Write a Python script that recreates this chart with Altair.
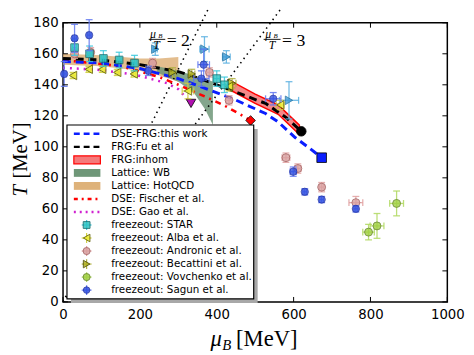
import altair as alt
import pandas as pd

W, H = 391, 284

# ---------------- data ----------------
dse_frg_mu = [0, 100, 200, 300, 356, 442, 527, 560, 604, 642, 673]
dse_frg_T = [155, 154, 150.5, 144, 139, 131, 121.5, 116, 106, 99, 93]
fu_mu = [0, 100, 200, 300, 356, 442, 527, 580, 620]
fu_T = [157, 156, 153, 148.5, 144, 136, 128, 119, 110]
fischer_mu = [0, 150, 250, 300, 373, 417, 468, 488]
fischer_T = [156, 152, 145, 140, 132, 127, 120, 117]
gao_mu = [0, 100, 187, 271, 301, 333]
gao_T = [151, 149.5, 146.5, 141, 137, 128]

inhom_mu = [440, 500, 560, 615]
inhom_lo = [136, 128, 121, 108]
inhom_hi = [142, 134, 127, 114]
wb_mu = [245, 300, 340, 370, 390]
wb_lo = [148, 142, 135, 124, 114]
wb_hi = [152, 149, 146, 144, 142]
hot_mu = [0, 100, 200, 250, 300]
hot_lo = [153, 152, 149, 146, 142]
hot_hi = [160, 159, 157, 157, 158]

# critical end points
cep_mu = [673, 620, 488, 333]
cep_T = [93, 110, 117, 128]

# mu_B/T = 2 and 3 reference lines (end points)
r2_mu = [0, 390]
r2_T = [0, 195]
r3_mu = [0, 585]
r3_T = [0, 195]

# freeze-out data: mu, T, err_mu, err_T
star_mu = [30, 69, 105, 146, 186, 400, 420]
star_T = [164, 160, 157, 156, 154, 144, 140]
star_emu = [5, 5, 5, 5, 5, 8, 8]
star_eT = [5, 5, 5, 5, 5, 5, 5]

alba_mu = [26, 67, 102, 141, 184, 325, 432, 565]
alba_T = [146, 150, 150, 148, 147, 136, 139, 127]
alba_emu = [5, 5, 5, 5, 5, 15, 10, 10]
alba_eT = [2, 2, 2, 2, 2, 5, 3, 3]

andr_mu = [30, 72, 233, 381, 432, 580, 611, 673, 762]
andr_T = [160, 161, 154, 148, 130, 93, 86, 74, 64]
andr_emu = [5, 5, 5, 8, 8, 10, 8, 6, 18]
andr_eT = [3, 3, 3, 3, 3, 3, 3, 3, 4]

beca_mu = [285, 335, 440]
beca_T = [148, 147, 141]
beca_emu = [8, 8, 10]
beca_eT = [3, 3, 3]

vov_mu = [795, 817, 868]
vov_T = [45, 49, 63.5]
vov_emu = [15, 18, 18]
vov_eT = [5, 8, 8]

sagun_mu = [3, 30, 68, 222, 360, 366, 547, 599, 629, 673, 762]
sagun_T = [147, 170, 172, 149, 144, 153, 131, 84, 71, 66, 60]
sagun_emu = [5, 5, 5, 5, 20, 15, 20, 8, 5, 5, 5]
sagun_eT = [8, 9, 10, 3, 5, 10, 4, 3, 2, 2, 2]

lb_mu = [240, 368, 425, 588]
lb_T = [163, 163, 158, 130]
lb_emu = [5, 12, 10, 25]
lb_eT = [4, 8, 4, 12]

x_ticks = [0, 200, 400, 600, 800, 1000]
y_ticks = [0, 20, 40, 60, 80, 100, 120, 140, 160, 180]

legend_labels = [
    "DSE-FRG:this work", "FRG:Fu et al", "FRG:inhom", "Lattice: WB",
    "Lattice: HotQCD", "DSE: Fischer et al.", "DSE: Gao et al.",
    "freezeout: STAR", "freezeout: Alba et al.", "freezeout: Andronic et al.",
    "freezeout: Becattini et al.", "freezeout: Vovchenko et al.",
    "freezeout: Sagun et al.",
]

# ---------------- chart ----------------
xs = alt.Scale(domain=[0, 1000], nice=False, zero=False)
ys = alt.Scale(domain=[0, 180], nice=False, zero=False)
XAX = alt.Axis(values=x_ticks, title=None, ticks=False, domain=False, grid=False, labelPadding=6,
               labelFlush=False, labelOverlap=False, format="d")
YAX = alt.Axis(values=y_ticks, title=None, ticks=False, domain=False, grid=False, labelPadding=5,
               labelOverlap=False, format="d")

def X(f="mu"):
    return alt.X(f"{f}:Q", scale=xs, axis=XAX, title=None)

def Y(f="T"):
    return alt.Y(f"{f}:Q", scale=ys, axis=YAX, title=None)

layers = []

def band(mu, lo, hi, fill, opacity, stroke=None):
    df = pd.DataFrame({"mu": mu, "lo": lo, "hi": hi})
    kw = dict(fill=fill, fillOpacity=opacity)
    if stroke:
        kw.update(stroke=stroke, strokeWidth=1.5)
    return alt.Chart(df).mark_area(**kw).encode(x=X(), y=Y("lo"), y2=alt.Y2("hi"))

layers.append(band(hot_mu, hot_lo, hot_hi, "#deb27a", 0.85))
layers.append(band(wb_mu, wb_lo, wb_hi, "#6f9778", 0.85))

def curve(mu, T, color, dash, width=3, clip=False):
    df = pd.DataFrame({"mu": mu, "T": T})
    return alt.Chart(df).mark_line(color=color, strokeDash=dash, strokeWidth=width, clip=clip).encode(x=X(), y=Y())

layers.append(curve(r2_mu, r2_T, "black", [1.5, 4], 1.6))
layers.append(curve(r3_mu, r3_T, "black", [1.5, 4], 1.6))
layers.append(curve(gao_mu, gao_T, "#d020d0", [2, 5], 2.6))
layers.append(curve(fischer_mu, fischer_T, "#ff0000", [6, 5, 2, 5], 2.6))
layers.append(band(inhom_mu, inhom_lo, inhom_hi, "#f47a7a", 0.9, stroke="#ff0000"))
layers.append(curve(dse_frg_mu, dse_frg_T, "#0a1eff", [8, 5], 3))
layers.append(curve(fu_mu, fu_T, "black", [8, 5], 3))

cepdf = pd.DataFrame({"mu": cep_mu, "T": cep_T,
                      "shape": ["square", "circle", "diamond", "triangle-down"],
                      "col": ["#0a1eff", "black", "#ff0000", "#b010b0"]})
layers.append(
    alt.Chart(cepdf).mark_point(filled=True, size=95, opacity=1, stroke="black", strokeWidth=0.8).encode(
        x=X(), y=Y(),
        shape=alt.Shape("shape:N", scale=None),
        fill=alt.Fill("col:N", scale=None),
        color=alt.Color("col:N", scale=None),
    )
)

def freeze(mu, T, emu, eT, shape, fill, stroke, err, size=60):
    df = pd.DataFrame({"mu": mu, "T": T, "emu": emu, "eT": eT})
    df["mlo"] = df["mu"] - df["emu"]
    df["mhi"] = df["mu"] + df["emu"]
    df["tlo"] = df["T"] - df["eT"]
    df["thi"] = df["T"] + df["eT"]
    base = alt.Chart(df)
    out = [
        base.mark_rule(color=err, strokeWidth=1.3, opacity=0.85).encode(x=X("mlo"), x2=alt.X2("mhi"), y=Y()),
        base.mark_rule(color=err, strokeWidth=1.3, opacity=0.85).encode(x=X(), y=Y("tlo"), y2=alt.Y2("thi")),
        base.mark_tick(color=err, orient="horizontal", size=7, thickness=1.3, opacity=0.85).encode(x=X(), y=Y("tlo")),
        base.mark_tick(color=err, orient="horizontal", size=7, thickness=1.3, opacity=0.85).encode(x=X(), y=Y("thi")),
        base.mark_tick(color=err, orient="vertical", size=7, thickness=1.3, opacity=0.85).encode(x=X("mlo"), y=Y()),
        base.mark_tick(color=err, orient="vertical", size=7, thickness=1.3, opacity=0.85).encode(x=X("mhi"), y=Y()),
        base.mark_point(shape=shape, filled=True, fill=fill, stroke=stroke, strokeWidth=1,
                        size=size, opacity=0.8).encode(x=X(), y=Y()),
    ]
    return out

styles = {
    "star": ("square", "#2ec4c4", "#106868", "#3cc8dc", 60),
    "alba": ("triangle-left", "#eeee30", "#5a5a00", "#d0d040", 75),
    "andr": ("circle", "#d9a0a0", "#a05f5f", "#e0a0a0", 65),
    "beca": ("triangle-right", "#b0b020", "#4a4a00", "#b0b040", 75),
    "vov": ("circle", "#a0d040", "#5f8020", "#b0d860", 65),
    "sagun": ("circle", "#3050e0", "#2030a0", "#6078f0", 55),
    "lb": ("triangle-right", "#3a9ad8", "#20709f", "#5ab0e0", 75),
}

layers += freeze(lb_mu, lb_T, lb_emu, lb_eT, *styles["lb"])
layers += freeze(vov_mu, vov_T, vov_emu, vov_eT, *styles["vov"])
layers += freeze(andr_mu, andr_T, andr_emu, andr_eT, *styles["andr"])
layers += freeze(beca_mu, beca_T, beca_emu, beca_eT, *styles["beca"])
layers += freeze(alba_mu, alba_T, alba_emu, alba_eT, *styles["alba"])
layers += freeze(star_mu, star_T, star_emu, star_eT, *styles["star"])
layers += freeze(sagun_mu, sagun_T, sagun_emu, sagun_eT, *styles["sagun"])

# annotations mu_B/T = 2, 3
ann_serif = "Liberation Serif"
for (cmu, tmu, bmu0, bmu1, eqmu, num) in [(234, 243, 223, 266, 300, "= 2"), (534, 544, 522, 566, 600, "= 3")]:
    d = pd.DataFrame({"mu": [cmu], "T": [172.5]})
    layers.append(alt.Chart(d).mark_text(text="μ", font=ann_serif, fontStyle="italic", fontSize=12,
                                         baseline="middle", align="center").encode(x=X(), y=Y()))
    d = pd.DataFrame({"mu": [cmu + 19], "T": [171.2]})
    layers.append(alt.Chart(d).mark_text(text="B", font=ann_serif, fontStyle="italic", fontSize=7,
                                         baseline="middle", align="center").encode(x=X(), y=Y()))
    d = pd.DataFrame({"mu": [bmu0], "mu2": [bmu1], "T": [169.3]})
    layers.append(alt.Chart(d).mark_rule(color="black", strokeWidth=0.9).encode(x=X(), x2=alt.X2("mu2"), y=Y()))
    d = pd.DataFrame({"mu": [tmu], "T": [165.3]})
    layers.append(alt.Chart(d).mark_text(text="T", font=ann_serif, fontStyle="italic", fontSize=12,
                                         baseline="middle", align="center").encode(x=X(), y=Y()))
    d = pd.DataFrame({"mu": [eqmu], "T": [168.2]})
    layers.append(alt.Chart(d).mark_text(text=num, font=ann_serif, fontSize=18,
                                         baseline="middle", align="center").encode(x=X(), y=Y()))

# inward ticks on all four sides
xt = pd.DataFrame({"v": x_ticks})
yt = pd.DataFrame({"v": y_ticks})
layers.append(alt.Chart(xt).mark_rule(color="black", strokeWidth=1).encode(x=X("v"), y=alt.value(H), y2=alt.value(H - 5)))
layers.append(alt.Chart(xt).mark_rule(color="black", strokeWidth=1).encode(x=X("v"), y=alt.value(0), y2=alt.value(5)))
layers.append(alt.Chart(yt).mark_rule(color="black", strokeWidth=1).encode(y=Y("v"), x=alt.value(0), x2=alt.value(5)))
layers.append(alt.Chart(yt).mark_rule(color="black", strokeWidth=1).encode(y=Y("v"), x=alt.value(W), x2=alt.value(W - 5)))

# ---------------- legend (drawn by hand) ----------------
one = pd.DataFrame({"a": [0]})
LX0, LX1, LY0, LY1 = 4, 194, 104, 281
layers.append(alt.Chart(one).mark_rect(fill="#a8a8a8").encode(
    x=alt.value(LX0 + 4), x2=alt.value(LX1 + 4), y=alt.value(LY0 + 4), y2=alt.value(LY1 + 4)))
layers.append(alt.Chart(one).mark_rect(fill="white", stroke="black", strokeWidth=1.2).encode(
    x=alt.value(LX0), x2=alt.value(LX1), y=alt.value(LY0), y2=alt.value(LY1)))

row_y = [113 + 13.25 * i for i in range(len(legend_labels))]
leg = pd.DataFrame({"label": legend_labels, "py": row_y})
layers.append(alt.Chart(leg).mark_text(align="left", baseline="middle", font="DejaVu Sans", fontSize=10.5,
                                       color="black").encode(
    x=alt.value(49), y=alt.Y("py:Q", scale=None), text="label:N"))

def leg_line(i, color, dash, width):
    d = pd.DataFrame({"py": [row_y[i]]})
    return alt.Chart(d).mark_rule(color=color, strokeDash=dash, strokeWidth=width).encode(
        x=alt.value(11), x2=alt.value(38), y=alt.Y("py:Q", scale=None))

def leg_patch(i, fill, stroke=None):
    d = pd.DataFrame({"py": [row_y[i] - 4], "py2": [row_y[i] + 4]})
    kw = dict(fill=fill)
    if stroke:
        kw.update(stroke=stroke, strokeWidth=1.2)
    return alt.Chart(d).mark_rect(**kw).encode(
        x=alt.value(11), x2=alt.value(38), y=alt.Y("py:Q", scale=None), y2="py2:Q")

layers.append(leg_line(0, "#0a1eff", [6, 4], 2.5))
layers.append(leg_line(1, "black", [6, 4], 2.5))
layers.append(leg_patch(2, "#f47a7a", "#ff0000"))
layers.append(leg_patch(3, "#6f9778"))
layers.append(leg_patch(4, "#deb27a"))
layers.append(leg_line(5, "#ff0000", [4, 4, 2, 4], 2.5))
layers.append(leg_line(6, "#d020d0", [2, 4], 2.5))

for i, key in enumerate(["star", "alba", "andr", "beca", "vov", "sagun"]):
    shape, fill, stroke, err, size = styles[key]
    y = row_y[7 + i]
    d = pd.DataFrame({"py": [y], "py0": [y - 5], "py1": [y + 5]})
    b = alt.Chart(d)
    layers.append(b.mark_rule(color=err, strokeWidth=1.2).encode(x=alt.value(19), x2=alt.value(29), y=alt.Y("py:Q", scale=None)))
    layers.append(b.mark_rule(color=err, strokeWidth=1.2).encode(x=alt.value(24), y=alt.Y("py0:Q", scale=None), y2="py1:Q"))
    layers.append(b.mark_point(shape=shape, filled=True, fill=fill, stroke=stroke, strokeWidth=1, size=size * 0.8,
                               opacity=0.85).encode(x=alt.value(24), y=alt.Y("py:Q", scale=None)))

# ---------------- axis titles (text) ----------------
def ptext(text, x, y, size, style="normal", angle=0, align="left", baseline="alphabetic"):
    kw = dict(text=text, font="Liberation Serif", fontSize=size, fontStyle=style, align=align,
              baseline=baseline, color="black")
    if angle:
        kw["angle"] = angle
    return alt.Chart(one).mark_text(**kw).encode(x=alt.value(x), y=alt.value(y))

layers.append(ptext("μ", 150, 329, 23, "italic"))
layers.append(ptext("B", 162, 333, 15, "italic"))
layers.append(ptext("[MeV]", 176, 329, 23))
layers.append(ptext("T", -43, 171, 21, "italic", angle=270, align="center", baseline="middle"))
layers.append(ptext("[MeV]", -43, 130, 21, angle=270, align="center", baseline="middle"))

chart = alt.layer(*layers).properties(
    width=W, height=H,
    autosize=alt.AutoSizeParams(type="none"),
    padding={"left": 56, "top": 12, "right": 19, "bottom": 51},
).configure_view(stroke="black", strokeWidth=1.5).configure_axis(
    labelFont="DejaVu Sans", labelFontSize=13.5, labelColor="black"
)

chart.save("out.html", embed_options={"renderer": "svg", "actions": False})
